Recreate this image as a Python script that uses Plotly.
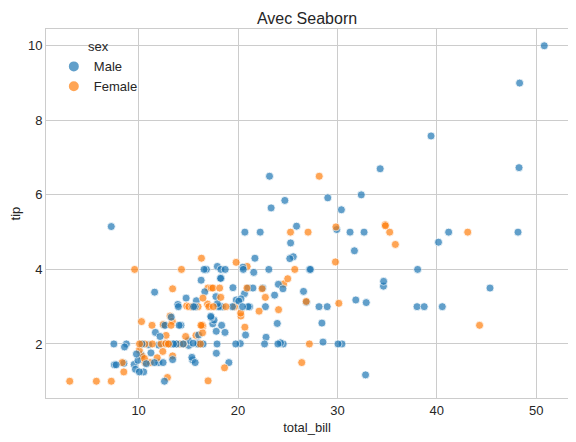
import plotly.graph_objects as go

# seaborn "tips" dataset, in original row order
total_bill = [
    16.99, 10.34, 21.01, 23.68, 24.59, 25.29, 8.77, 26.88, 15.04, 14.78,
    10.27, 35.26, 15.42, 18.43, 14.83, 21.58, 10.33, 16.29, 16.97, 20.65,
    17.92, 20.29, 15.77, 39.42, 19.82, 17.81, 13.37, 12.69, 21.7, 19.65,
    9.55, 18.35, 15.06, 20.69, 17.78, 24.06, 16.31, 16.93, 18.69, 31.27,
    16.04, 17.46, 13.94, 9.68, 30.4, 18.29, 22.23, 32.4, 28.55, 18.04,
    12.54, 10.29, 34.81, 9.94, 25.56, 19.49, 38.01, 26.41, 11.24, 48.27,
    20.29, 13.81, 11.02, 18.29, 17.59, 20.08, 16.45, 3.07, 20.23, 15.01,
    12.02, 17.07, 26.86, 25.28, 14.73, 10.51, 17.92, 27.2, 22.76, 17.29,
    19.44, 16.66, 10.07, 32.68, 15.98, 34.83, 13.03, 18.28, 24.71, 21.16,
    28.97, 22.49, 5.75, 16.32, 22.75, 40.17, 27.28, 12.03, 21.01, 12.46,
    11.35, 15.38, 44.3, 22.42, 20.92, 15.36, 20.49, 25.21, 18.24, 14.31,
    14.0, 7.25, 38.07, 23.95, 25.71, 17.31, 29.93, 10.65, 12.43, 24.08,
    11.69, 13.42, 14.26, 15.95, 12.48, 29.8, 8.52, 14.52, 11.38, 22.82,
    19.08, 20.27, 11.17, 12.26, 18.26, 8.51, 10.33, 14.15, 16.0, 13.16,
    17.47, 34.3, 41.19, 27.05, 16.43, 8.35, 18.64, 11.87, 9.78, 7.51,
    14.07, 13.13, 17.26, 24.55, 19.77, 29.85, 48.17, 25.0, 13.39, 16.49,
    21.5, 12.66, 16.21, 13.81, 17.51, 24.52, 20.76, 31.71, 10.59, 10.63,
    50.81, 15.81, 7.25, 31.85, 16.82, 32.9, 17.89, 14.48, 9.6, 34.63,
    34.65, 23.33, 45.35, 23.17, 40.55, 20.69, 20.9, 30.46, 18.15, 23.1,
    15.69, 19.81, 28.44, 15.48, 16.58, 7.56, 10.34, 43.11, 13.0, 13.51,
    18.71, 12.74, 13.0, 16.4, 20.53, 16.47, 26.59, 38.73, 24.27, 12.76,
    30.06, 25.89, 48.33, 13.27, 28.17, 12.9, 28.15, 11.59, 7.74, 30.14,
    12.16, 13.42, 8.58, 15.98, 13.42, 16.27, 10.09, 20.45, 13.28, 22.12,
    24.01, 15.69, 11.61, 10.77, 15.53, 10.07, 12.6, 32.83, 35.83, 29.03,
    27.18, 22.67, 17.82, 18.78,
]
tip = [
    1.01, 1.66, 3.5, 3.31, 3.61, 4.71, 2.0, 3.12, 1.96, 3.23,
    1.71, 5.0, 1.57, 3.0, 3.02, 3.92, 1.67, 3.71, 3.5, 3.35,
    4.08, 2.75, 2.23, 7.58, 3.18, 2.34, 2.0, 2.0, 4.3, 3.0,
    1.45, 2.5, 3.0, 2.45, 3.27, 3.6, 2.0, 3.07, 2.31, 5.0,
    2.24, 2.54, 3.06, 1.32, 5.6, 3.0, 5.0, 6.0, 2.05, 3.0,
    2.5, 2.6, 5.2, 1.56, 4.34, 3.51, 3.0, 1.5, 1.76, 6.73,
    3.21, 2.0, 1.98, 3.76, 2.64, 3.15, 2.47, 1.0, 2.01, 2.09,
    1.97, 3.0, 3.14, 5.0, 2.2, 1.25, 3.08, 4.0, 3.0, 2.71,
    3.0, 3.4, 1.83, 5.0, 2.03, 5.17, 2.0, 4.0, 5.85, 3.0,
    3.0, 3.5, 1.0, 4.3, 3.25, 4.73, 4.0, 1.5, 3.0, 1.5,
    2.5, 3.0, 2.5, 3.48, 4.08, 1.64, 4.06, 4.29, 3.76, 4.0,
    3.0, 1.0, 4.0, 2.55, 4.0, 3.5, 5.07, 1.5, 1.8, 2.92,
    2.31, 1.68, 2.5, 2.0, 2.52, 4.2, 1.48, 2.0, 2.0, 2.18,
    1.5, 2.83, 1.5, 2.0, 3.25, 1.25, 2.0, 2.0, 2.0, 2.75,
    3.5, 6.7, 5.0, 5.0, 2.3, 1.5, 1.36, 1.63, 1.73, 2.0,
    2.5, 2.0, 2.74, 2.0, 2.0, 5.14, 5.0, 3.75, 2.61, 2.0,
    3.5, 2.5, 2.0, 2.0, 3.0, 3.48, 2.24, 4.5, 1.61, 2.0,
    10.0, 3.16, 5.15, 3.18, 4.0, 3.11, 2.0, 2.0, 4.0, 3.55,
    3.68, 5.65, 3.5, 6.5, 3.0, 5.0, 3.5, 2.0, 3.5, 4.0,
    1.5, 4.19, 2.56, 2.02, 4.0, 1.44, 2.0, 5.0, 2.0, 2.0,
    4.0, 2.01, 2.0, 2.5, 4.0, 3.23, 3.41, 3.0, 2.03, 2.23,
    2.0, 5.16, 9.0, 2.5, 6.5, 1.1, 3.0, 1.5, 1.44, 3.09,
    2.2, 3.48, 1.92, 3.0, 1.58, 2.5, 2.0, 3.0, 2.72, 2.88,
    2.0, 3.0, 3.39, 1.47, 3.0, 1.25, 1.0, 1.17, 4.67, 5.92,
    2.0, 2.0, 1.75, 3.0,
]
M, F = "Male", "Female"
sex = [
    F, M, M, M, F, M, M, M, M, M,
    M, F, M, M, F, M, F, M, F, M,
    M, F, F, M, M, M, M, M, M, F,
    M, M, F, F, M, M, M, F, M, M,
    M, M, M, M, M, M, M, M, M, M,
    M, F, F, M, M, M, M, F, M, M,
    M, M, M, M, M, M, F, F, M, M,
    M, F, F, F, F, M, M, M, M, M,
    M, M, F, M, M, F, M, M, M, M,
    M, M, F, F, F, M, M, M, M, M,
    F, F, F, F, F, M, M, M, M, F,
    M, F, M, M, F, F, M, F, F, F,
    M, F, M, M, F, F, M, F, F, M,
    M, F, F, F, F, F, F, F, M, F,
    F, M, M, F, F, F, F, F, M, M,
    M, M, M, M, M, F, M, F, F, M,
    M, M, F, M, F, M, M, M, F, F,
    M, M, M, M, M, M, M, M, F, M,
    M, M, M, M, M, M, F, M, F, M,
    M, F, M, M, M, M, M, F, F, M,
    M, F, F, F, M, F, M, M, M, F,
    M, M, M, F, F, F, M, M, M, F,
    M, F, M, F, M, F, F, M, M, F,
    M, M, M, M, M, M, M, M, F, M,
    F, M, M, F,
]
hue_order = ["Male", "Female"]
palette = {"Male": "#1f77b4", "Female": "#ff7f0e"}

text_col = "#262626"
grid_col = "#cccccc"
font = "Liberation Sans, Arial, sans-serif"

fig = go.Figure()

# all points in one trace so the overlap order follows the rows, like seaborn
fig.add_trace(go.Scatter(
    x=total_bill, y=tip, mode="markers", showlegend=False,
    marker=dict(size=8, color=[palette[s] for s in sex], opacity=0.7,
                line=dict(color="white", width=0.8)),
))
for s in hue_order:
    fig.add_trace(go.Scatter(
        x=[None], y=[None], mode="markers", name=s,
        marker=dict(size=8, color=palette[s], opacity=0.7,
                    line=dict(color="white", width=0.8)),
    ))

axis = dict(showgrid=True, gridcolor=grid_col, gridwidth=1, zeroline=False,
            showline=True, linecolor=grid_col, linewidth=1, mirror=True,
            ticks="", tickfont=dict(size=13, color=text_col),
            title_font=dict(size=13, color=text_col), automargin=False)

# page body adds an 8px offset, so the figure is a bit smaller than the window
fig.update_layout(
    width=568, height=434,
    margin=dict(l=38, r=8, t=21, b=44),
    paper_bgcolor="white", plot_bgcolor="white",
    font=dict(family=font, color=text_col),
    title=dict(text="Avec Seaborn", x=0.5, xanchor="center", y=0.977, yanchor="middle",
               xref="paper", font=dict(size=16, color=text_col)),
    xaxis=dict(axis, range=[0.683, 53.197], tickvals=[10, 20, 30, 40, 50],
               title=dict(text="total_bill", standoff=6)),
    yaxis=dict(axis, range=[0.55, 10.45], tickvals=[2, 4, 6, 8, 10],
               title=dict(text="tip", standoff=8)),
    legend=dict(x=0.015, y=0.985, xanchor="left", yanchor="top",
                bgcolor="rgba(0,0,0,0)", font=dict(size=13, color=text_col),
                title=dict(text="sex", side="top center", font=dict(size=13)),
                itemsizing="constant", tracegroupgap=0),
)

fig.write_html("out.html")
